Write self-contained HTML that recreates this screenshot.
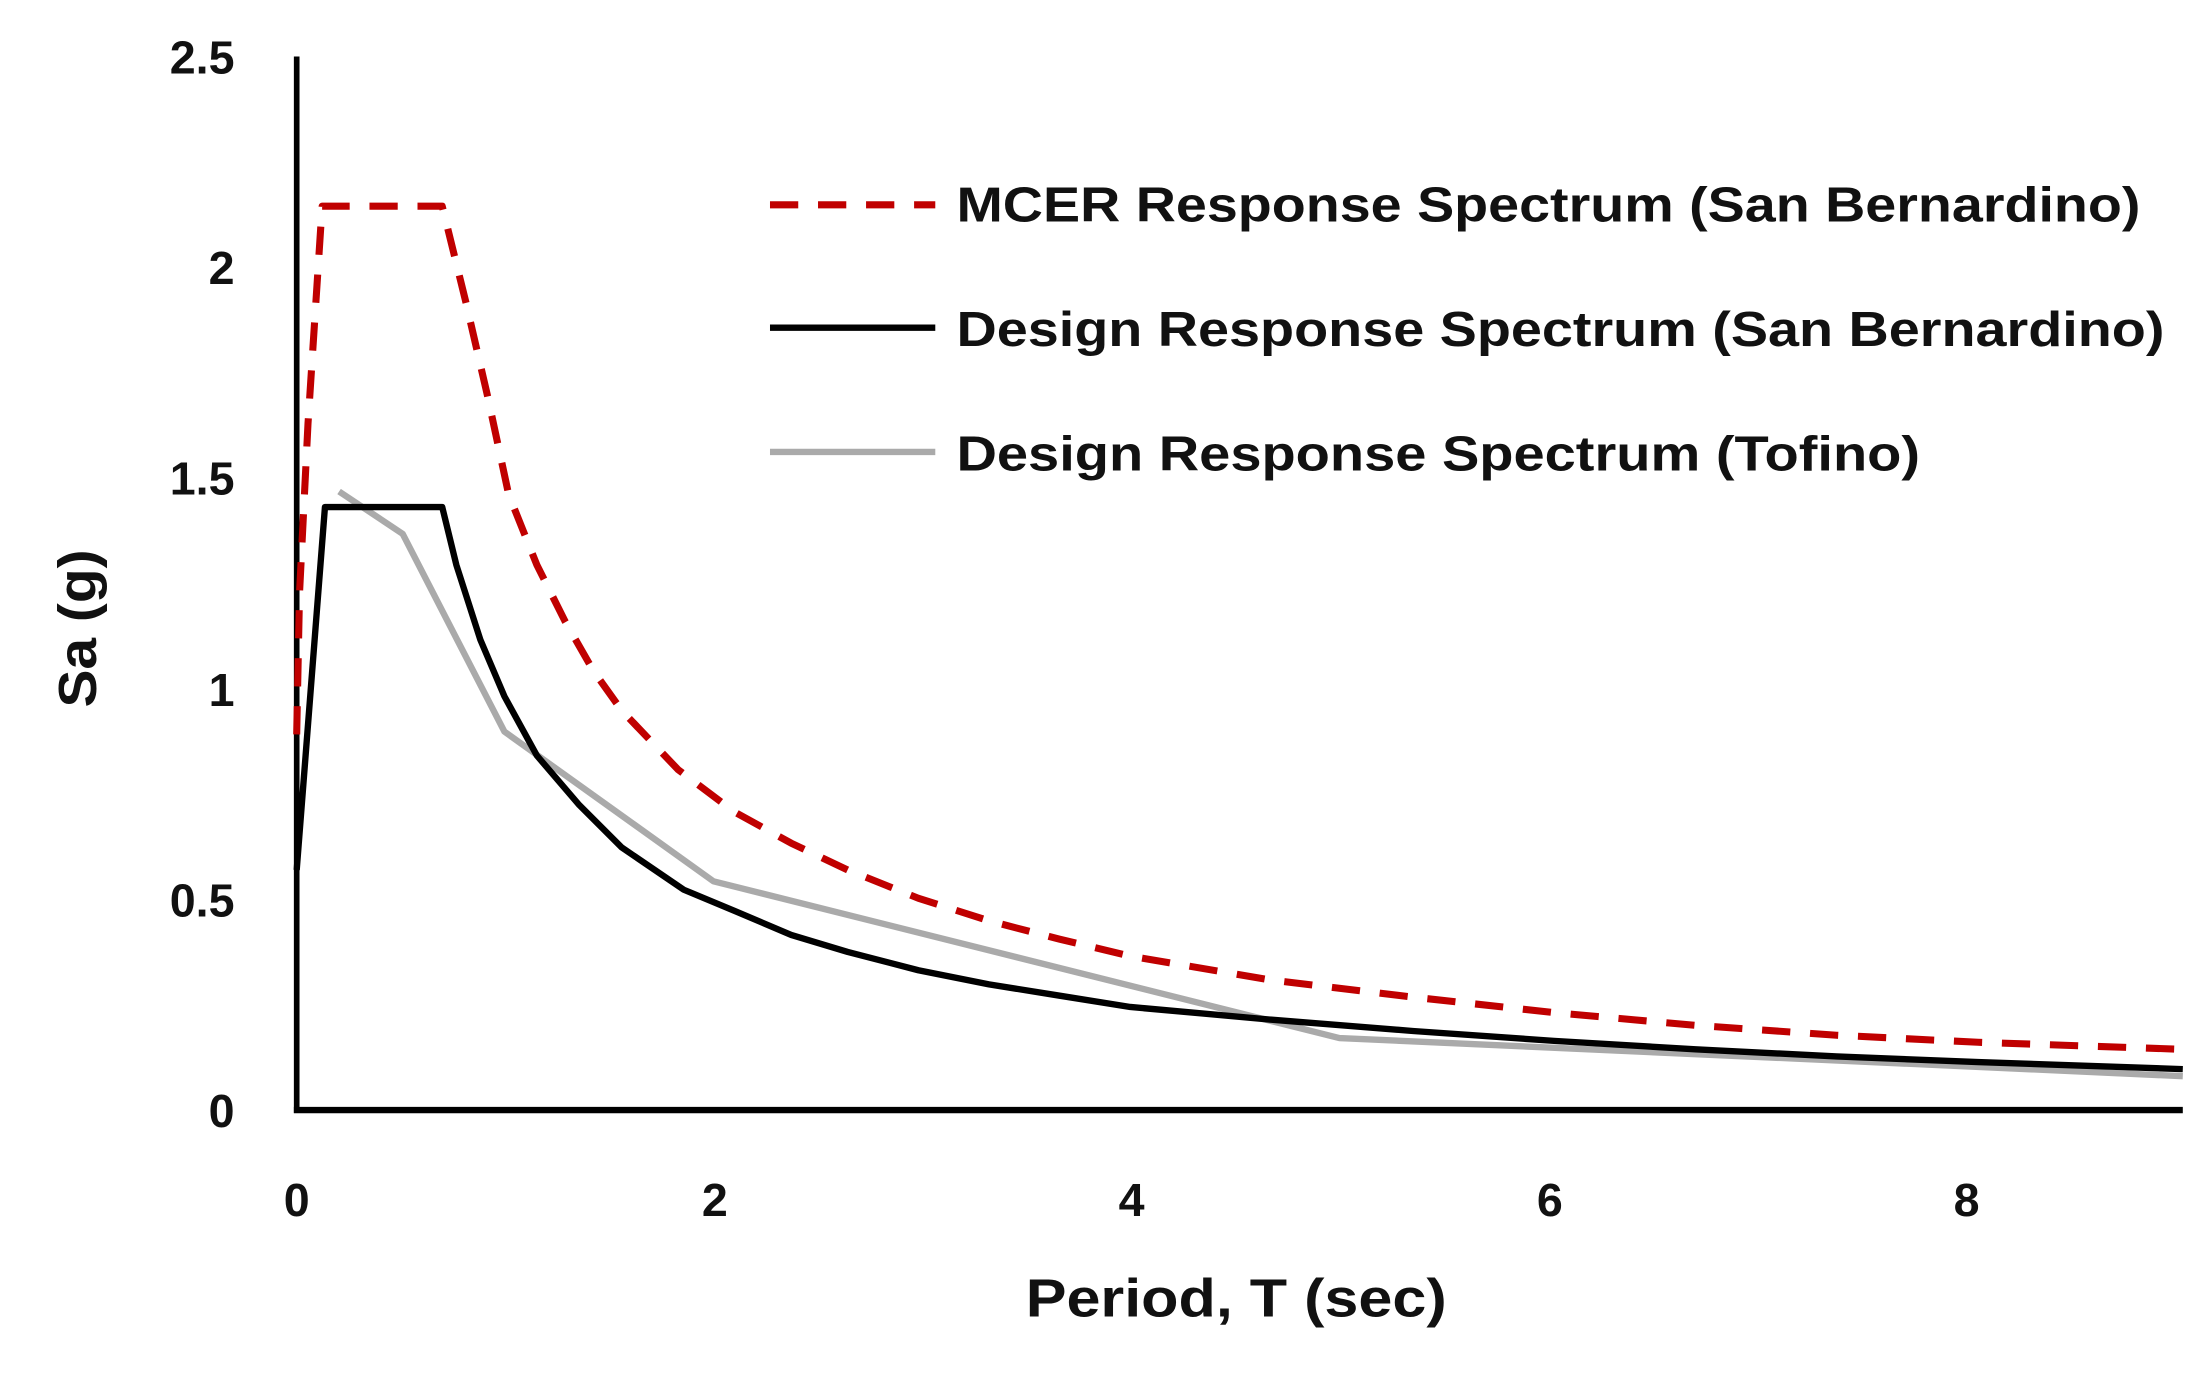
<!DOCTYPE html>
<html><head><meta charset="utf-8"><style>html,body{margin:0;padding:0;background:#fff}svg{display:block}</style></head>
<body>
<svg width="2204" height="1377" viewBox="0 0 1560 975" preserveAspectRatio="none" xmlns="http://www.w3.org/2000/svg" font-family="'Liberation Sans', sans-serif" font-weight="bold">
<rect width="1560" height="975" fill="#fff"/>
<line x1="210" y1="40" x2="210" y2="788" stroke="#000" stroke-width="4"/>
<line x1="208" y1="786" x2="1545" y2="786" stroke="#000" stroke-width="4.5"/>
<g font-size="33" text-anchor="end" fill="#111">
<text x="166" y="52">2.5</text>
<text x="166" y="201">2</text>
<text x="166" y="350">1.5</text>
<text x="166" y="500">1</text>
<text x="166" y="649">0.5</text>
<text x="166" y="798">0</text>
</g>
<g font-size="33" text-anchor="middle" fill="#111">
<text x="210" y="861">0</text>
<text x="506" y="861">2</text>
<text x="801" y="861">4</text>
<text x="1097" y="861">6</text>
<text x="1392" y="861">8</text>
</g>
<text x="875" y="932" font-size="38" text-anchor="middle" fill="#111" textLength="298" lengthAdjust="spacingAndGlyphs">Period, T (sec)</text>
<text transform="translate(68,445) rotate(-90)" font-size="38" text-anchor="middle" fill="#111" textLength="112" lengthAdjust="spacingAndGlyphs">Sa (g)</text>
<polyline fill="none" stroke="#aaa" stroke-width="4.5" stroke-linejoin="round" points="240,348 285,378 357,518 505,624 948,735 1545,762"/>
<polyline fill="none" stroke="#000" stroke-width="4.5" stroke-linejoin="round" points="210,616 230,359 313,359 323,400 340,453 357,493 380,535 410,570 440,600 484,630 520,645 560,662 600,674 650,687 700,697 750,705 800,713 900,722 1000,730 1100,737 1200,743 1300,748 1400,752 1545,757"/>
<polyline fill="none" stroke="#c00000" stroke-width="5" stroke-dasharray="20,14" stroke-linejoin="round" points="210,520 212,420 218,300 228,146 313,146 330,215 345,280 360,350 380,400 400,440 420,475 440,503 480,545 520,575 560,597 600,616 650,636 700,652 750,665 800,677 900,694 1000,706 1100,717 1200,726 1300,733 1400,738 1545,743"/>
<line x1="545" y1="145" x2="662" y2="145" stroke="#c00000" stroke-width="5" stroke-dasharray="20,14"/>
<line x1="545" y1="232" x2="662" y2="232" stroke="#000" stroke-width="4.5"/>
<line x1="545" y1="320" x2="662" y2="320" stroke="#aaa" stroke-width="4.5"/>
<g font-size="35" fill="#111">
<text x="677" y="157" textLength="838" lengthAdjust="spacingAndGlyphs">MCER Response Spectrum (San Bernardino)</text>
<text x="677" y="245" textLength="855" lengthAdjust="spacingAndGlyphs">Design Response Spectrum (San Bernardino)</text>
<text x="677" y="333" textLength="682" lengthAdjust="spacingAndGlyphs">Design Response Spectrum (Tofino)</text>
</g>
</svg>
</body></html>
